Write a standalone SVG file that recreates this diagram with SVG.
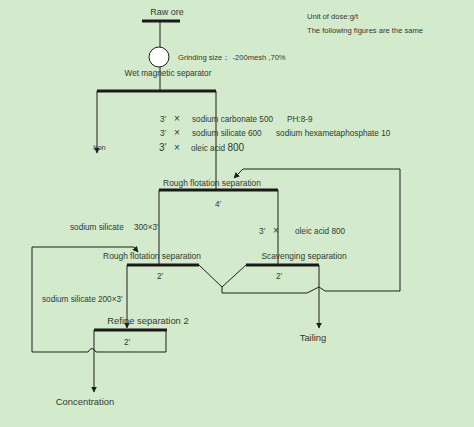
<svg xmlns="http://www.w3.org/2000/svg" width="474" height="427" viewBox="0 0 474 427">
<defs>
<style>
text{font-family:"Liberation Sans",Arial,sans-serif;fill:#2f3a2f;font-size:8.2px}
.l{fill:none;stroke:#1e1e1e;stroke-width:1}
.bar{fill:none;stroke:#1a1a1a;stroke-width:3}
.c{text-anchor:middle}
.big{font-size:9.4px}
.x{font-size:10px}
</style>
<marker id="ah" viewBox="0 0 10 10" refX="9" refY="5" markerWidth="6" markerHeight="6" orient="auto" markerUnits="userSpaceOnUse">
<path d="M0,0 L10,5 L0,10 z" fill="#1e1e1e"/>
</marker>
</defs>
<rect width="474" height="427" fill="#d4eacd"/>

<g id="connectors">
<path class="l" d="M160,21 V47"/>
<path class="l" d="M160,67 V91"/>
<path class="l" d="M97,91 V153" marker-end="url(#ah)"/>
<path class="l" d="M216,91 V190"/>
<path class="l" d="M159,190 V265"/>
<path class="l" d="M278,190 V265"/>
<path class="l" d="M319,287 L325,291 H400 V169 H243 L234,178" marker-end="url(#ah)"/>
<path class="l" d="M166,330 V352 H96 Q92,345 88,352 H32 V247 H134 L138,252" marker-end="url(#ah)"/>
<path class="l" d="M199,265 L222,287 L246,265"/>
<path class="l" d="M222,287 V293 H307 L319,287"/>
<path class="l" d="M127,265 V328" marker-end="url(#ah)"/>
<path class="l" d="M94,330 V392" marker-end="url(#ah)"/>
<path class="l" d="M319,265 V328" marker-end="url(#ah)"/>
</g>

<g id="raw-ore">
<path class="bar" d="M142,21 H180"/>
<text class="c" x="167" y="15" style="font-size:9px">Raw ore</text>
</g>

<g id="grinding">
<circle cx="159" cy="57" r="10" fill="#ffffff" stroke="#1e1e1e" stroke-width="1"/>
<text x="178" y="60" style="font-size:7.6px">Grinding size： -200mesh ,70%</text>
</g>

<g id="wet-magnetic-separator">
<path class="bar" d="M97,91 H216"/>
<text class="c" x="168" y="76">Wet magnetic separator</text>
</g>

<g id="notes">
<text x="307" y="19" style="font-size:7.6px">Unit of dose:g/t</text>
<text x="307" y="33" style="font-size:7.6px">The following figures are the same</text>
</g>

<g id="reagents-1">
<text x="160" y="122">3′</text><text class="x" x="174" y="122">×</text>
<text x="192" y="122">sodium carbonate 500</text><text x="287" y="122">PH:8-9</text>
<text x="160" y="136">3′</text><text class="x" x="174" y="136">×</text>
<text x="192" y="136">sodium silicate 600</text><text x="276" y="136">sodium hexametaphosphate 10</text>
<text x="159" y="151" style="font-size:10px">3′</text><text class="x" x="174" y="151">×</text>
<text x="191" y="151">oleic acid <tspan style="font-size:10px">800</tspan></text>
</g>

<g id="iron">
<text x="93" y="150" style="font-size:7.4px">Iron</text>
</g>

<g id="rough-flotation-1">
<path class="bar" d="M159,190 H278"/>
<text class="c" x="212" y="186" style="font-size:8.4px">Rough flotation separation</text>
<text class="c" x="218" y="207">4′</text>
</g>

<g id="reagents-2">
<text x="70" y="230">sodium silicate</text>
<text x="134" y="230">300×3′</text>
<text x="259" y="234">3′</text><text class="x" x="273" y="234">×</text>
<text x="295" y="234">oleic acid 800</text>
<text x="42" y="302">sodium silicate 200×3′</text>
</g>

<g id="rough-flotation-2">
<path class="bar" d="M127,265 H199"/>
<text class="c" x="152" y="259" style="font-size:8.4px">Rough flotation separation</text>
<text class="c" x="160" y="279">2′</text>
</g>

<g id="scavenging">
<path class="bar" d="M246,265 H319"/>
<text class="c" x="304" y="259" style="font-size:8.4px">Scavenging separation</text>
<text class="c" x="279" y="279">2′</text>
</g>

<g id="refine">
<path class="bar" d="M94,330 H167"/>
<text class="c big" x="148" y="324">Refine separation 2</text>
<text class="c" x="127" y="345">2′</text>
</g>

<g id="tailing">
<text class="c big" x="313" y="341">Tailing</text>
</g>

<g id="concentration">
<text class="c big" x="85" y="405">Concentration</text>
</g>
</svg>
